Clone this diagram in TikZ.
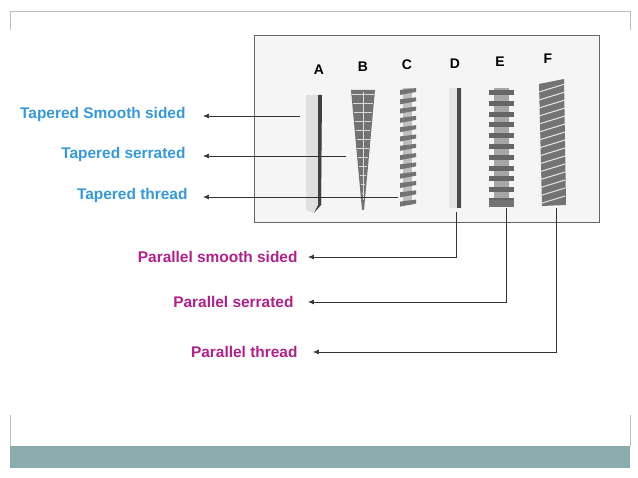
\documentclass[tikz,border=0pt]{standalone}
\usepackage{fontspec}
\setmainfont{Liberation Sans}
\usetikzlibrary{arrows.meta}
\definecolor{lblue}{RGB}{52,152,219}
\definecolor{lmag}{RGB}{176,32,138}
\begin{document}
\begin{tikzpicture}[x=1bp,y=-1bp,
  blu/.style={text=lblue,font=\bfseries\fontsize{15.5}{17}\selectfont,anchor=east},
  mag/.style={text=lmag,font=\bfseries\fontsize{15.5}{17}\selectfont,anchor=east},
  lead/.style={draw=black!80,line width=0.7pt,-{Latex[length=6pt,width=5pt]}},
  let/.style={font=\bfseries\fontsize{14}{16}\selectfont}]
\useasboundingbox (0,0) rectangle (638,478);
% slide frame
\draw[black!25,line width=0.6pt] (10,30)--(10,11)--(630,11)--(630,30);
\draw[black!25,line width=0.6pt] (10,415)--(10,446) (630,415)--(630,446);
\fill[fill={rgb,255:red,138;green,172;blue,172}] (10,446) rectangle (630,468);
% panel
\draw[fill=black!4,draw=black!60,line width=0.8pt] (254,35) rectangle (599,222);
\node[let] at (319,70) {A};
\node[let] at (363,67) {B};
\node[let] at (407,65) {C};
\node[let] at (455,64) {D};
\node[let] at (500,62) {E};
\node[let] at (548,59) {F};
% A
\fill[black!12] (306,95) rectangle (322,205);
\fill[black!12] (306,205)--(322,205)--(313,213)--(306,210)--cycle;
\fill[black!75] (318,95)--(322,95)--(321,205)--(314,213)--(318,205)--cycle;
% B
\fill[black!55] (351,90)--(375,90)--(364,210)--(362,210)--cycle;
\foreach \i in {0,...,11} \draw[black!15,line width=0.8pt] ({352+\i*0.9},{94+\i*9}) -- ({374-\i*0.9},{94+\i*9});
\draw[black!15] (363,92)--(363,200);
% C
\fill[black!25] (403,88) rectangle (412,205);
\foreach \i in {0,...,12} \fill[black!55] (400,{90+\i*9.3}) -- (416,{88+\i*9.3}) -- (416,{92+\i*9.3}) -- (400,{95+\i*9.3}) -- cycle;
% D
\fill[black!10] (449,88) rectangle (462,208);
\fill[black!70] (457,88) rectangle (461,208);
% E
\fill[black!35] (494,88) rectangle (509,205);
\foreach \i in {0,...,10} \fill[black!60] (489,{90+\i*10.8}) rectangle (514,{95+\i*10.8});
\fill[black!55] (489,200) rectangle (514,207);
% F
\fill[black!55] (539,84)--(564,79)--(566,205)--(542,206)--cycle;
\foreach \i in {0,...,14} \draw[black!10,line width=1pt] (539,{92+\i*8}) -- (565,{84+\i*8});
% labels
\node[blu] (ts) at (189,115) {Tapered Smooth sided};
\node[blu] (tr) at (189,155) {Tapered serrated};
\node[blu] (tt) at (191,196) {Tapered thread};
\node[mag] (ps) at (301,257) {Parallel smooth sided};
\node[mag] (pr) at (297,302) {Parallel serrated};
\node[mag] (pt) at (301,352) {Parallel thread};
\coordinate (a) at (300,116); \coordinate (b) at (346,156); \coordinate (c) at (398,197);
\coordinate (d) at (456,212); \coordinate (e) at (506,208); \coordinate (f) at (556,208);
\draw[lead] (a) -- (203,116);
\draw[lead] (b) -- (203,156);
\draw[lead] (c) -- (203,197);
\draw[lead] (d) -- (456,257) -- (308,257);
\draw[lead] (e) -- (506,302) -- (308,302);
\draw[lead] (f) -- (556,352) -- (313,352);
\end{tikzpicture}
\end{document}
